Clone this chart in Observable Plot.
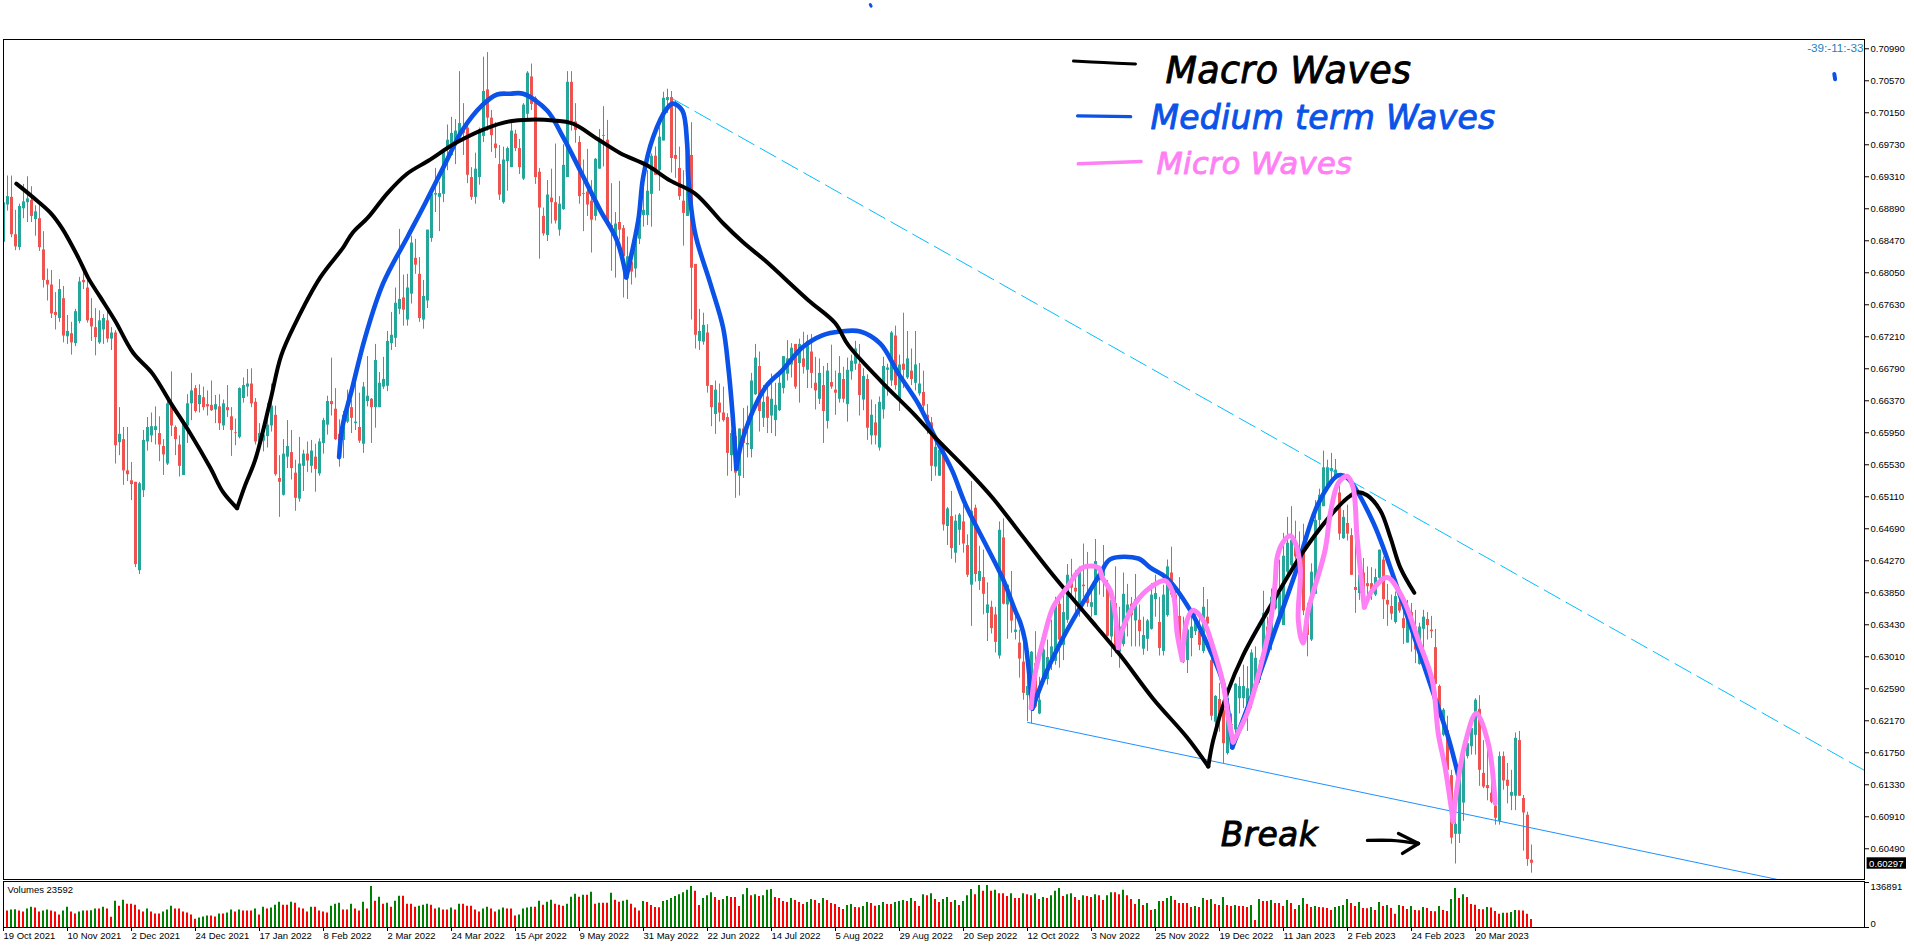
<!DOCTYPE html>
<html>
<head>
<meta charset="utf-8">
<script src="https://cdn.jsdelivr.net/npm/d3@7"></script>
<script src="https://cdn.jsdelivr.net/npm/@observablehq/plot@0.6"></script>
<style>
html,body{margin:0;padding:0;background:#fff;overflow:hidden}
svg{display:block}
.hand text{letter-spacing:.3px}
</style>
</head>
<body>
<div id="chart"></div>
<script>
// Prices are in pips (price x 10000), one entry per daily bar.
const opens = [
6845,6894,6904,6855,6838,6889,6897,6900,6875,6876,
6835,6795,6789,6753,6745,6771,6721,6725,6712,6741,
6795,6785,6745,6733,6713,6730,6742,6718,6726,6582,
6586,6545,6532,6530,6414,6519,6583,6591,6598,6594,
6577,6554,6631,6602,6579,6539,6604,6633,6653,6632,
6641,6632,6631,6625,6629,6604,6628,6616,6595,6589,
6640,6655,6659,6635,6583,6584,6590,6604,6618,6535,
6513,6563,6569,6542,6508,6551,6567,6551,6563,6541,
6581,6605,6636,6626,6593,6585,6609,6628,6607,6602,
6580,6636,6639,6628,6628,6655,6656,6712,6719,6757,
6772,6743,6777,6824,6803,6743,6768,6850,6907,6904,
6908,6966,6959,6979,6985,6991,6995,6930,6904,6930,
6984,7045,7008,6974,6947,6897,6951,6943,6987,6968,
6928,7013,7062,7034,6937,6879,6854,6903,6897,6861,
6888,6930,7055,7003,6976,6909,6911,6899,6879,6941,
6984,6979,6867,6853,6871,6863,6808,6819,6810,6849,
6880,6880,6908,6958,6939,6978,7031,7035,6959,6942,
6899,6879,6959,6816,6715,6714,6726,6657,6619,6634,
6621,6615,6565,6590,6538,6600,6579,6573,6645,6682,
6614,6642,6617,6611,6624,6653,6672,6684,6711,6686,
6692,6677,6701,6660,6639,6657,6610,6661,6651,6639,
6665,6632,6675,6685,6685,6638,6665,6591,6608,6575,
6625,6677,6663,6722,6639,6685,6667,6676,6660,6646,
6648,6618,6608,6550,6538,6572,6472,6485,6437,6467,
6478,6447,6395,6496,6400,6405,6358,6366,6356,6302,
6457,6369,6370,6333,6319,6294,6250,6235,6292,6226,
6270,6271,6292,6295,6370,6316,6349,6397,6391,6369,
6395,6384,6366,6355,6401,6406,6397,6327,6371,6307,
6317,6358,6370,6348,6349,6311,6324,6337,6376,6346,
6308,6355,6411,6382,6354,6314,6296,6325,6334,6334,
6308,6353,6296,6215,6245,6231,6174,6212,6205,6246,
6246,6226,6240,6266,6270,6305,6340,6327,6364,6349,
6342,6412,6421,6445,6423,6437,6364,6323,6383,6480,
6498,6524,6544,6537,6516,6456,6476,6460,6392,6384,
6411,6397,6397,6382,6404,6428,6375,6367,6346,6372,
6351,6319,6359,6340,6291,6337,6350,6336,6313,6262,
6198,6204,6145,6068,6068,6109,6170,6183,6198,6232,
6148,6132,6122,6105,6085,6170,6139,6118,6118,6191,
6115,6093,6034];
const closes = [
6897,6905,6855,6839,6892,6898,6902,6879,6885,6838,
6795,6789,6751,6749,6783,6722,6728,6713,6754,6793,
6792,6742,6734,6720,6742,6745,6718,6726,6578,6593,
6545,6540,6527,6422,6528,6585,6602,6603,6603,6579,
6566,6633,6604,6586,6551,6608,6633,6650,6623,6644,
6628,6629,6624,6632,6607,6633,6624,6598,6594,6653,
6657,6659,6633,6583,6594,6592,6605,6630,6540,6530,
6567,6577,6548,6509,6554,6567,6558,6571,6547,6583,
6611,6636,6632,6586,6565,6618,6635,6614,6609,6584,
6655,6643,6628,6690,6660,6665,6715,6723,6765,6770,
6756,6785,6844,6815,6745,6774,6861,6908,6909,6909,
6966,6979,6988,6991,7001,6988,6933,6904,6941,6993,
7043,7008,6985,6968,6907,6953,6968,6991,6968,6943,
7025,7067,7026,6930,6890,6856,6907,6897,6873,6895,
6946,7055,7003,6992,6905,6908,6894,6874,6954,6976,
6985,6867,6861,6869,6861,6826,6826,6806,6848,6874,
6887,6912,6958,6933,6983,7034,7035,6955,6954,6905,
6883,6935,6811,6723,6728,6736,6656,6628,6651,6621,
6611,6568,6594,6542,6600,6581,6581,6663,6693,6623,
6635,6614,6639,6631,6660,6695,6692,6706,6655,6711,
6681,6715,6673,6650,6673,6623,6676,6655,6647,6673,
6639,6677,6689,6705,6644,6669,6601,6618,6591,6635,
6682,6680,6726,6657,6684,6677,6692,6665,6684,6659,
6630,6605,6551,6576,6572,6474,6495,6443,6479,6487,
6449,6408,6492,6409,6413,6383,6369,6338,6320,6467,
6370,6395,6348,6336,6298,6253,6262,6307,6235,6244,
6310,6300,6314,6370,6323,6359,6408,6391,6386,6412,
6393,6371,6372,6426,6410,6414,6328,6375,6310,6340,
6383,6369,6355,6376,6334,6329,6348,6382,6384,6312,
6382,6419,6382,6353,6310,6294,6336,6340,6349,6316,
6366,6344,6223,6249,6222,6187,6246,6211,6265,6262,
6262,6259,6306,6299,6283,6358,6322,6379,6379,6384,
6433,6450,6454,6432,6441,6361,6329,6412,6480,6513,
6549,6549,6548,6546,6462,6484,6462,6408,6388,6408,
6375,6393,6388,6405,6441,6376,6369,6357,6380,6361,
6338,6362,6344,6310,6340,6353,6342,6334,6265,6231,
6231,6152,6063,6081,6145,6178,6187,6207,6244,6152,
6130,6128,6110,6089,6170,6138,6131,6123,6194,6118,
6096,6035,6030];
const highs = [
6897,6932,6932,6887,6895,6921,6931,6918,6893,6895,
6859,6810,6808,6779,6796,6787,6749,6740,6757,6799,
6808,6795,6771,6758,6755,6750,6757,6733,6729,6628,
6602,6602,6556,6530,6530,6598,6615,6621,6629,6616,
6586,6637,6675,6604,6591,6612,6645,6673,6657,6658,
6655,6650,6663,6644,6645,6638,6657,6628,6613,6654,
6667,6678,6679,6640,6607,6603,6633,6659,6630,6565,
6586,6611,6598,6559,6589,6572,6583,6585,6580,6587,
6614,6643,6693,6653,6612,6623,6651,6638,6660,6647,
6661,6695,6640,6711,6674,6694,6728,6753,6785,6862,
6802,6803,6853,6849,6825,6795,6861,6908,6942,6924,
6966,6999,7009,7006,7069,7027,7001,6943,6962,6995,
7088,7094,7018,7002,6972,6970,6970,7001,6992,6980,
7027,7069,7079,7036,6942,6890,6926,6941,6974,6905,
6973,7069,7069,7027,6984,6953,6967,6926,6955,6993,
7023,7005,6922,6884,6925,6867,6852,6834,6852,6883,
6922,6939,6961,6970,6996,7042,7046,7043,7031,6970,
6939,6944,7002,6816,6757,6752,6737,6657,6663,6659,
6655,6620,6598,6590,6600,6627,6630,6673,6711,6701,
6657,6655,6672,6660,6672,6695,6716,6712,6711,6718,
6727,6723,6724,6694,6692,6682,6686,6710,6676,6695,
6681,6693,6697,6715,6711,6679,6671,6638,6632,6642,
6694,6685,6728,6735,6697,6752,6728,6705,6728,6686,
6676,6632,6615,6585,6585,6576,6497,6518,6487,6489,
6500,6461,6531,6500,6446,6441,6398,6374,6366,6478,
6482,6395,6413,6362,6336,6319,6301,6308,6334,6274,
6329,6323,6349,6379,6375,6388,6422,6429,6414,6419,
6449,6438,6388,6455,6419,6447,6401,6379,6419,6366,
6411,6396,6379,6409,6369,6353,6350,6397,6408,6379,
6395,6428,6445,6388,6405,6353,6353,6362,6362,6351,
6392,6376,6310,6250,6266,6250,6246,6226,6266,6274,
6290,6288,6310,6314,6296,6387,6353,6390,6401,6428,
6463,6484,6498,6479,6465,6475,6371,6423,6506,6521,
6571,6559,6568,6560,6528,6493,6500,6469,6450,6441,
6430,6419,6418,6416,6441,6432,6396,6382,6386,6379,
6362,6375,6371,6362,6345,6362,6359,6354,6337,6264,
6233,6223,6152,6091,6152,6183,6196,6222,6246,6250,
6191,6180,6144,6134,6176,6176,6161,6152,6201,6203,
6119,6097,6054];
const lows = [
6845,6886,6851,6834,6834,6876,6871,6871,6853,6833,
6785,6768,6745,6730,6740,6713,6711,6697,6708,6738,
6783,6739,6715,6696,6711,6711,6713,6703,6554,6565,
6526,6531,6506,6418,6409,6510,6571,6582,6579,6557,
6539,6552,6590,6565,6537,6539,6581,6611,6621,6621,
6624,6617,6623,6607,6598,6598,6615,6564,6578,6587,
6634,6642,6628,6579,6581,6570,6575,6596,6538,6484,
6512,6548,6533,6492,6504,6518,6543,6542,6517,6538,
6567,6592,6617,6585,6550,6561,6607,6594,6598,6581,
6568,6629,6581,6601,6628,6652,6649,6703,6707,6750,
6735,6735,6764,6803,6740,6731,6758,6845,6884,6859,
6897,6939,6958,6947,6979,6959,6922,6900,6895,6920,
6976,6991,6963,6955,6900,6895,6912,6943,6964,6934,
6926,7005,7018,6921,6823,6853,6846,6869,6869,6853,
6887,6930,6991,6975,6895,6859,6879,6831,6873,6941,
6944,6867,6807,6798,6848,6772,6770,6789,6798,6842,
6865,6867,6865,6933,6912,6978,7014,6936,6929,6900,
6840,6879,6743,6705,6703,6710,6647,6603,6593,6609,
6609,6538,6544,6509,6512,6535,6562,6562,6644,6596,
6602,6594,6594,6590,6623,6646,6663,6667,6652,6634,
6672,6653,6653,6625,6632,6581,6600,6652,6618,6634,
6634,6609,6664,6677,6617,6624,6585,6579,6579,6571,
6613,6643,6656,6651,6623,6653,6665,6657,6650,6643,
6618,6593,6531,6538,6538,6466,6447,6429,6424,6447,
6437,6405,6341,6399,6388,6356,6321,6331,6306,6298,
6369,6324,6332,6323,6273,6244,6216,6213,6233,6225,
6264,6264,6283,6290,6286,6296,6345,6379,6353,6353,
6379,6366,6353,6355,6382,6379,6327,6300,6305,6286,
6314,6327,6314,6314,6314,6303,6308,6336,6353,6302,
6302,6353,6379,6349,6301,6292,6279,6301,6329,6309,
6305,6336,6217,6202,6202,6161,6172,6183,6200,6226,
6233,6203,6233,6257,6266,6288,6309,6309,6362,6344,
6342,6410,6419,6428,6423,6355,6301,6321,6383,6467,
6498,6520,6533,6535,6454,6455,6453,6408,6358,6375,
6373,6375,6375,6380,6401,6350,6341,6349,6344,6358,
6317,6319,6307,6292,6290,6312,6323,6325,6264,6226,
6196,6148,6055,6029,6056,6085,6167,6172,6172,6131,
6128,6112,6108,6080,6080,6126,6108,6099,6099,6118,
6046,6026,6017];
// Tick volume, in thousands.
const volumes = [
52,50,53,54,50,47,56,62,59,47,
50,53,50,47,38,50,62,47,41,47,
50,50,51,56,56,62,56,31,80,65,
83,71,71,68,53,47,56,47,41,41,
47,53,65,56,56,47,44,38,25,29,
32,35,35,32,41,41,44,53,47,53,
50,50,50,56,38,62,56,59,68,77,
68,68,77,74,59,56,47,62,62,50,
47,44,65,71,74,53,53,71,56,50,
77,56,125,80,92,71,74,62,80,95,
95,71,71,62,65,68,71,68,56,59,
53,53,59,53,71,71,65,65,53,47,
56,62,56,47,53,59,56,56,35,38,
56,59,62,62,80,68,77,83,71,68,
65,71,92,101,92,98,98,107,71,74,
74,74,104,83,77,80,83,71,59,50,
79,76,67,61,60,79,82,88,94,100,
106,113,125,110,67,88,97,106,91,82,
85,94,91,91,64,100,119,97,100,94,
97,113,116,91,88,79,76,88,82,76,
70,76,85,82,73,88,82,73,70,61,
55,67,70,61,60,64,76,73,65,67,
76,70,70,76,79,82,79,88,79,64,
100,97,103,85,76,85,91,76,82,67,
79,97,116,100,128,110,128,110,113,103,
103,94,103,88,88,103,100,97,103,85,
91,88,97,110,119,94,100,103,91,82,
97,94,91,100,97,82,97,106,106,100,
113,97,85,70,85,67,73,52,55,79,
79,88,94,82,73,73,73,61,64,61,
88,82,85,70,67,91,67,64,67,64,
64,61,67,21,85,79,79,82,73,73,
64,82,73,55,67,88,70,61,64,61,
60,58,52,61,64,67,85,73,64,76,
58,57,61,52,76,64,67,58,40,67,
64,55,64,52,51,61,58,49,48,64,
52,49,85,119,88,100,91,70,68,55,
54,61,59,49,40,43,43,46,52,51,
50,40,24];

const dateLabels = ["19 Oct 2021","10 Nov 2021","2 Dec 2021","24 Dec 2021","17 Jan 2022","8 Feb 2022","2 Mar 2022","24 Mar 2022","15 Apr 2022","9 May 2022","31 May 2022","22 Jun 2022","14 Jul 2022","5 Aug 2022","29 Aug 2022","20 Sep 2022","12 Oct 2022","3 Nov 2022","25 Nov 2022","19 Dec 2022","11 Jan 2023","2 Feb 2023","24 Feb 2023","20 Mar 2023"];
const priceTicks = d3.range(26).map(k => 7099 - 42 * k);
const lastPrice = 6029.7;

// Hand-drawn strokes: [bar, pips].
const macroWave = [[3.2,6922],[7.4,6904],[11.7,6884],[14.7,6863],[18.7,6825],[21.2,6798],[24.2,6773],[27.9,6742],[32.4,6700],[37.2,6673],[41.7,6635],[46.7,6594],[51.7,6549],[54.9,6517],[58.4,6496],[60.4,6526],[62.9,6559],[66.7,6637],[69.4,6696],[72.9,6738],[79.2,6799],[84.9,6838],[87.2,6857],[91.2,6878],[95.9,6909],[100.9,6935],[106.2,6952],[112.9,6975],[120.4,6994],[126.7,7004],[131.7,7006],[137.4,7005],[142.2,7001],[148.4,6981],[154.2,6962],[160.9,6946],[166.7,6926],[172.9,6909],[179.9,6870],[184.9,6845],[190.4,6821],[201.2,6769],[207.9,6739],[211.2,6710],[219.7,6661],[227.9,6618],[232.9,6589],[240.4,6549],[247.2,6510],[254.2,6463],[262.4,6408],[270.9,6355],[279.2,6303],[287.4,6246],[295.9,6195],[301.2,6157],[302.4,6191],[305.9,6253],[309.9,6303],[317.9,6378],[324.7,6437],[331.2,6483],[335.9,6509],[338.4,6517],[340.9,6513],[344.2,6493],[346.7,6458],[349.2,6418],[352.7,6385]];
const macroCusps = [58.4,301.2];
const mediumWave = [[83.9,6563],[84.7,6602],[87.2,6654],[90.4,6720],[94.9,6791],[101.2,6854],[105.4,6896],[110.4,6948],[114.7,6992],[119.7,7025],[123.4,7039],[126.7,7040],[129.9,7040],[135.9,7018],[139.9,6983],[144.2,6939],[149.2,6887],[153.4,6847],[155.7,6799],[158.7,6874],[159.9,6930],[162.4,6983],[165.9,7021],[167.4,7027],[169.7,7018],[170.9,6975],[171.2,6930],[172.9,6857],[176.7,6791],[179.9,6733],[181.2,6681],[182.2,6624],[183.2,6548],[184.9,6589],[190.4,6654],[194.7,6677],[199.7,6707],[204.7,6723],[209.2,6728],[214.2,6728],[219.2,6712],[223.7,6673],[228.7,6633],[232.9,6589],[237.2,6545],[240.4,6502],[245.4,6450],[249.7,6405],[252.9,6362],[254.2,6346],[255.4,6322],[257.2,6233],[260.9,6283],[264.9,6326],[269.2,6366],[274.2,6410],[276.7,6429],[283.7,6430],[286.7,6418],[290.9,6404],[296.7,6362],[301.7,6309],[304.9,6266],[307.2,6182],[311.7,6244],[317.9,6336],[322.9,6410],[328.7,6502],[333.7,6539],[335.9,6536],[342.2,6480],[348.7,6388],[357.2,6257],[361.2,6195],[363.7,6145]];
const mediumCusps = [155.7,183.2,257.2,307.2];
const microWave = [[256.9,6234],[257.9,6279],[259.9,6322],[262.4,6366],[265.9,6392],[269.7,6418],[273.7,6418],[274.7,6405],[276.7,6388],[277.9,6358],[278.7,6313],[279.9,6339],[282.9,6371],[286.7,6392],[290.4,6401],[292.4,6384],[293.4,6332],[294.7,6297],[295.9,6349],[297.4,6362],[299.9,6349],[302.4,6313],[304.9,6266],[306.2,6221],[307.4,6189],[310.9,6227],[314.2,6287],[316.7,6345],[317.9,6397],[318.4,6431],[319.7,6450],[321.7,6460],[322.9,6451],[324.2,6418],[323.7,6349],[324.9,6319],[326.2,6362],[330.4,6441],[331.7,6489],[333.7,6529],[335.9,6538],[337.4,6523],[338.4,6458],[340.2,6366],[342.2,6388],[345.9,6405],[349.7,6379],[353.7,6323],[357.2,6270],[358.7,6200],[360.4,6156],[362.4,6085],[363.4,6130],[365.4,6187],[368.2,6227],[371.2,6187],[372.9,6109]];
const microCusps = [278.7,294.7,307.4,340.2,362.4];
const upperTrend = [[167.4,7033],[465.2,6152]];
const lowerTrend = [[256,6215],[443.25,6009]];
const legendMacro = [[267.5,7083],[275,7081],[283,7079]];
const legendMedium = [[268.5,7011],[281.8,7010]];
const legendMicro = [[268.7,6948],[284.4,6951]];
const arrowShaft = [[341,6060],[347,6060],[353.75,6056]];
const arrowHead = [[348.75,6069],[353.75,6056],[349.75,6043]];
const arrowCusps = [353.75];
const strayDotRight = [[457.7,7066],[457.9,7059]];
const strayDotTop = [[216.7,7157],[216.9,7155]];

const UP = "#26a69a", DOWN = "#ef5350";
const BLACK = "#000000", BLUE = "#0a52e8", PINK = "#ff80f4";
const FONT = "'Liberation Sans', Arial, sans-serif";
const HAND = "'DejaVu Sans', sans-serif";

const bars = opens.map((o, i) => ({i, open: o, close: closes[i], high: highs[i], low: lows[i], volume: volumes[i]}));
const xDomain = [0, 465.25];

// A stroke is smooth except at its cusps, where the pen changed direction sharply.
const pieces = (pts, cusps) => {
  let z = 0;
  const out = [];
  for (const p of pts) {
    out.push({bar: p[0], pips: p[1], z});
    if (cusps.includes(p[0])) { z++; out.push({bar: p[0], pips: p[1], z}); }
  }
  return out;
};
const stroke = (pts, color, width, cusps = []) => Plot.line(pieces(pts, cusps), {
  x: "bar", y: "pips", z: "z", stroke: color, strokeWidth: width,
  curve: "catmull-rom", strokeLinecap: "round", strokeLinejoin: "round"
});
const note = (label, x, y, color, size) => Plot.text([label], {
  x: () => x, y: () => y, text: d => d, fill: color, stroke: color, strokeWidth: 0.9,
  textAnchor: "start", fontFamily: HAND, fontSize: size, fontStyle: "italic", className: "hand"
});

const main = Plot.plot({
  width: 1914, height: 880,
  marginLeft: 3, marginRight: 50, marginTop: 39, marginBottom: 1,
  style: {fontFamily: FONT, fontSize: "9.5px", background: "transparent", color: "#000"},
  x: {domain: xDomain, axis: null},
  y: {domain: [6008.7, 7111.2]},
  color: {type: "identity"},
  marks: [
    Plot.ruleX(bars, {x: "i", y1: "low", y2: "high", stroke: d => d.close >= d.open ? UP : DOWN, strokeWidth: 1, clip: true}),
    Plot.ruleX(bars, {x: "i", y1: "open", y2: "close", stroke: d => d.close >= d.open ? UP : DOWN, strokeWidth: 3, clip: true}),
    Plot.line(upperTrend, {x: d => d[0], y: d => d[1], stroke: "#00bfff", strokeWidth: 1, strokeDasharray: "18,7", clip: true}),
    Plot.line(lowerTrend, {x: d => d[0], y: d => d[1], stroke: "#1e90ff", strokeWidth: 1, clip: true}),
    stroke(mediumWave, BLUE, 4.6, mediumCusps),
    stroke(macroWave, BLACK, 4, macroCusps),
    stroke(microWave, PINK, 5, microCusps),
    stroke(legendMacro, BLACK, 3),
    stroke(legendMedium, BLUE, 3.2),
    stroke(legendMicro, PINK, 3.5),
    note("Macro Waves", 290.5, 7070, BLACK, 36.5),
    note("Medium term Waves", 286.75, 7008, BLUE, 33),
    note("Micro Waves", 288.25, 6948, PINK, 30.5),
    note("Break", 304.3, 6067, BLACK, 33),
    stroke(arrowShaft, BLACK, 3.4),
    stroke(arrowHead, BLACK, 3.4, arrowCusps),
    stroke(strayDotRight, BLUE, 4),
    stroke(strayDotTop, BLUE, 3),
    Plot.rect([lastPrice], {x1: () => 465.9, x2: () => 475.75, y1: d => d - 7.5, y2: d => d + 7.5, fill: "#000"}),
    Plot.text([lastPrice], {x: () => 466.4, y: d => d, text: d => (d / 10000).toFixed(5), fill: "#fff", textAnchor: "start"}),
    Plot.text(["-39:-11:-33"], {frameAnchor: "top-right", dx: -1, dy: 4, text: d => d, fill: "#1f7fc4", fontSize: 11.7}),
    Plot.frame({stroke: "#000"}),
    Plot.axisY({anchor: "right", ticks: priceTicks, tickFormat: d => (d / 10000).toFixed(5), tickSize: 4, tickPadding: 2, label: null, stroke: "#000"})
  ]
});

const volumeBars = bars.map((b, k) => ({...b, rising: k === 0 || b.volume > bars[k - 1].volume}));
const volumeTop = 136.891;
const panel = Plot.plot({
  width: 1914, height: 68,
  marginLeft: 3, marginRight: 50, marginTop: 1, marginBottom: 21,
  style: {fontFamily: FONT, fontSize: "9.5px", background: "transparent", color: "#000"},
  x: {domain: xDomain},
  y: {domain: [0, 140]},
  color: {type: "identity"},
  marks: [
    Plot.ruleX(volumeBars.slice(1), {x: "i", y1: 0, y2: "volume", stroke: d => d.rising ? "#008000" : "#ff0000", strokeWidth: 2, dx: -0.5, clip: true}),
    Plot.text(["Volumes 23592"], {frameAnchor: "top-left", dx: 4, dy: 5, text: d => d, fill: "#000"}),
    Plot.frame({stroke: "#000"}),
    Plot.axisY({anchor: "right", ticks: [0, volumeTop], tickFormat: () => "", tickSize: 4, label: null}),
    Plot.text([volumeTop], {x: () => 465.25, y: d => d, dx: 6, dy: 4, text: () => "136891", textAnchor: "start", fontSize: 9.5}),
    Plot.text([0], {x: () => 465.25, y: d => d, dx: 6, dy: -4, text: () => "0", textAnchor: "start", fontSize: 9.5}),
    Plot.axisX({anchor: "bottom", ticks: dateLabels.map((_, k) => k * 16), tickFormat: d => dateLabels[d / 16], tickSize: 4, tickPadding: 1, textAnchor: "start", label: null})
  ]
});

document.getElementById("chart").append(main, panel);
</script>
</body>
</html>
